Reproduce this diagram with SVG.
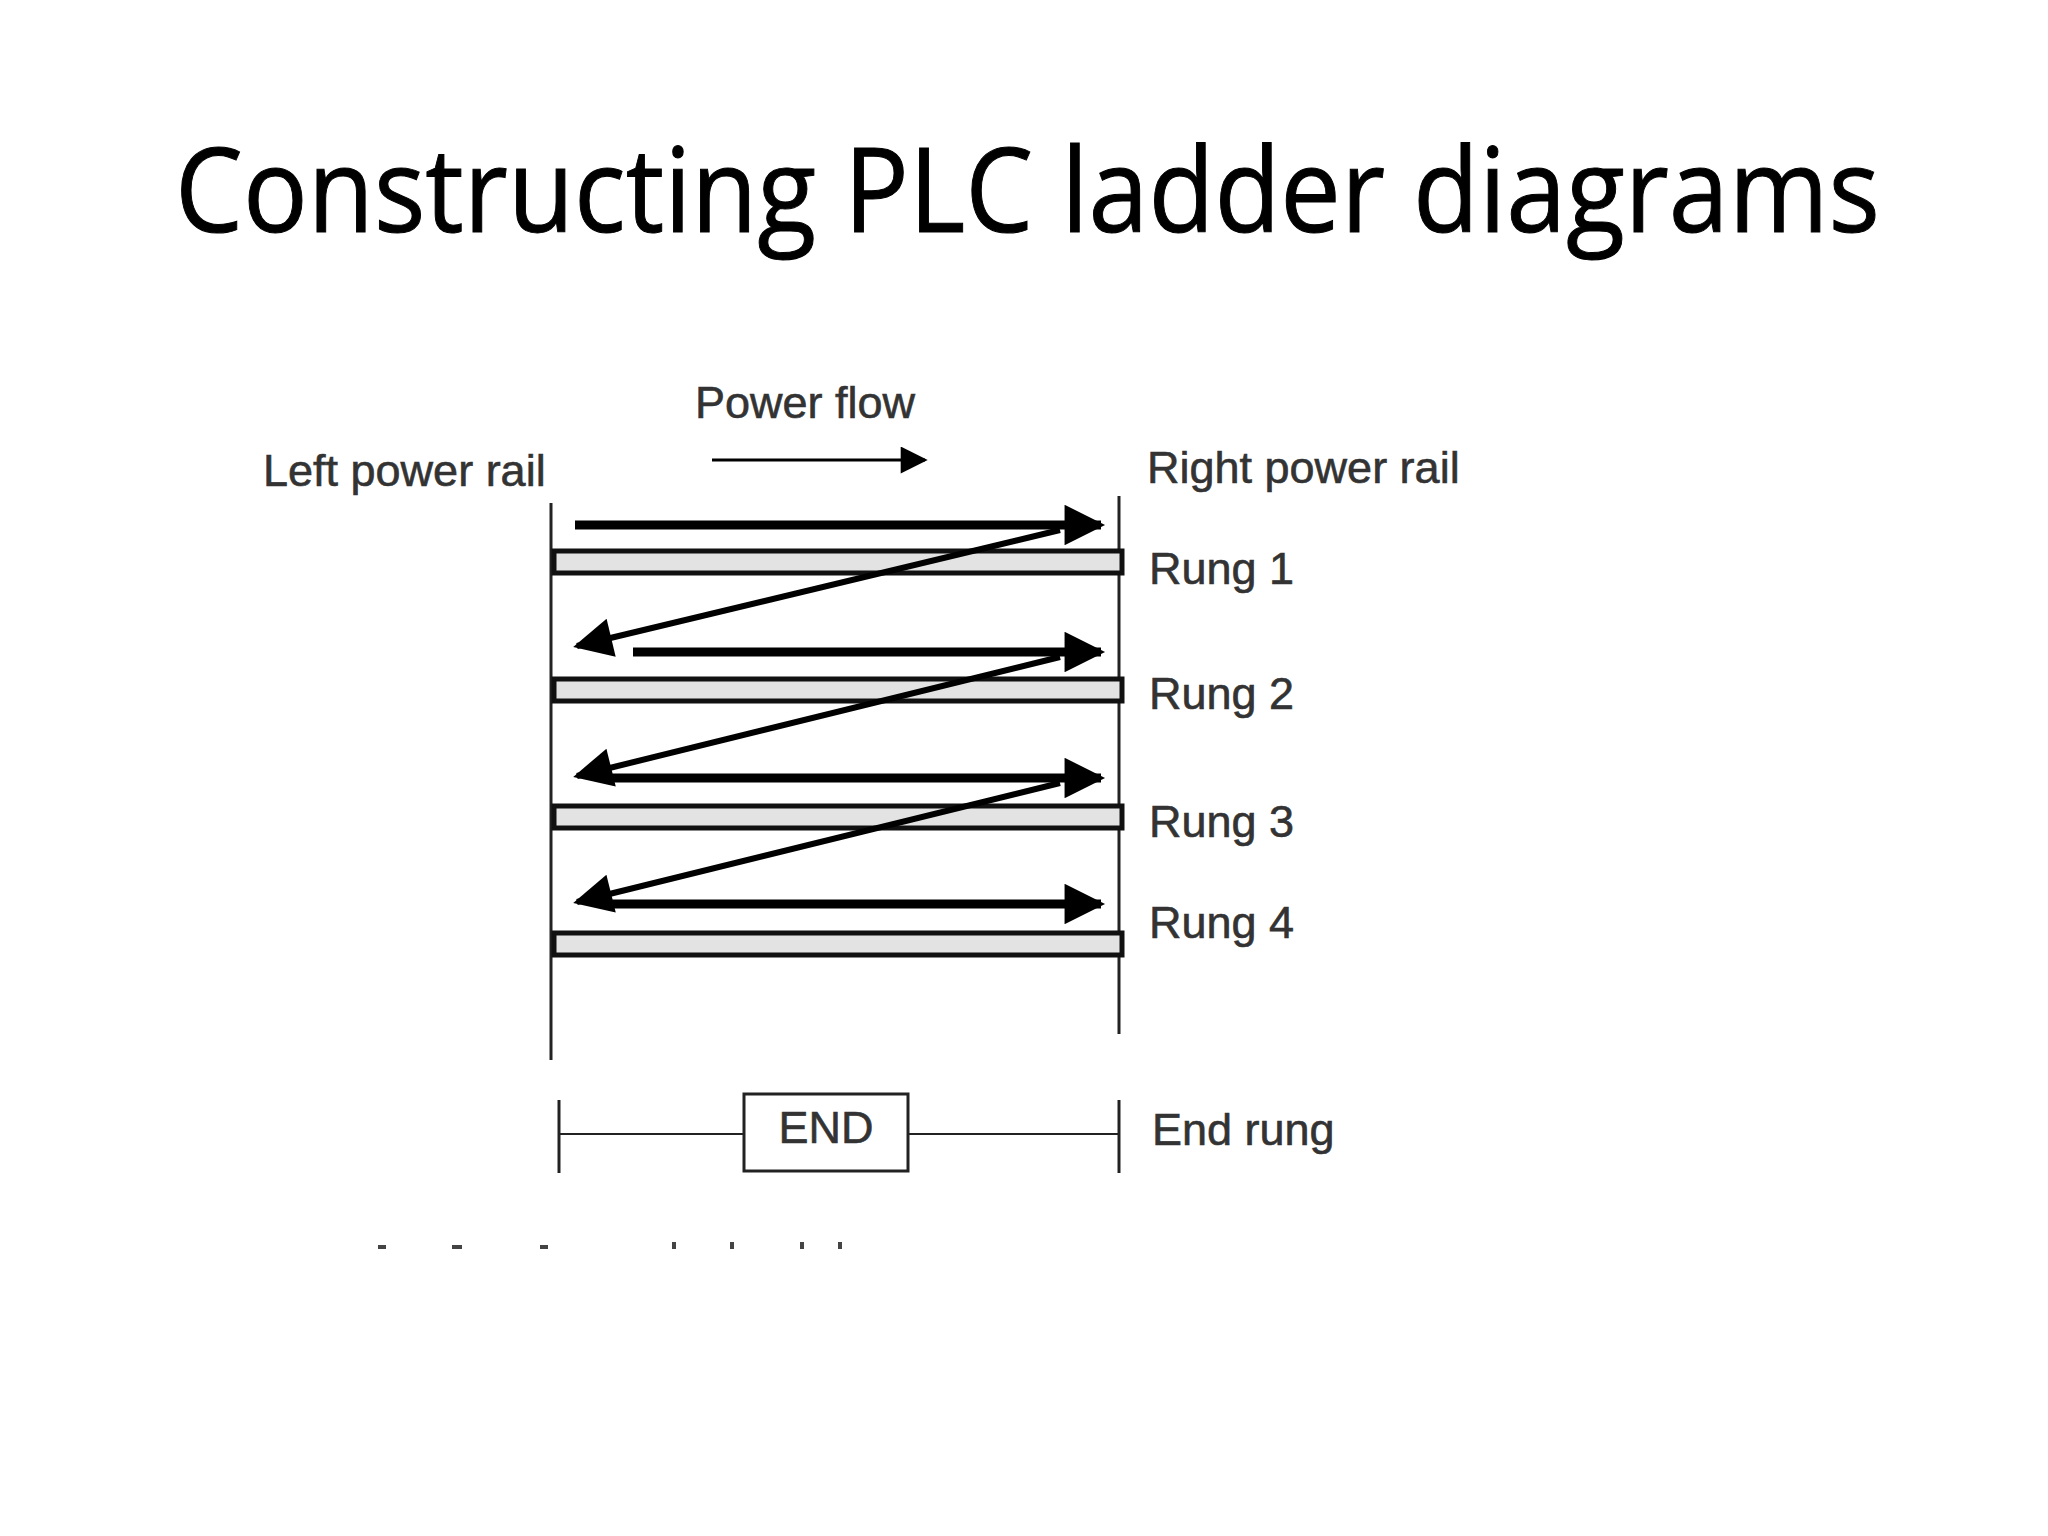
<svg xmlns="http://www.w3.org/2000/svg" width="2048" height="1536" viewBox="0 0 2048 1536">
<style>
.t{font-family:"Liberation Sans",Arial,sans-serif;font-size:45px;fill:#333;stroke:#333;stroke-width:0.6}
.rail{stroke:#222;stroke-width:3;fill:none}
.bar{fill:#e3e3e3;stroke:#111;stroke-width:5}
.fl{stroke:#000;stroke-width:9;fill:none}
.dg{stroke:#000;stroke-width:6;fill:none}
</style>
<defs>
<marker id="ah" viewBox="0 0 10 10" refX="9" refY="5" markerWidth="5.5" markerHeight="4.5" markerUnits="strokeWidth" orient="auto"><path d="M0,0 L10,5 L0,10 z" fill="#000"/></marker>
<marker id="ahd" viewBox="0 0 10 10" refX="9" refY="5" markerWidth="8" markerHeight="6.5" markerUnits="strokeWidth" orient="auto"><path d="M0,0 L10,5 L0,10 z" fill="#000"/></marker>
<marker id="ahs" viewBox="0 0 10 10" refX="9" refY="5" markerWidth="12" markerHeight="9" markerUnits="strokeWidth" orient="auto"><path d="M0,0 L10,5 L0,10 z" fill="#000"/></marker>
</defs>
<rect width="2048" height="1536" fill="#fff"/>
<text x="175" y="232" font-family="'Open Sans',sans-serif" font-size="118" textLength="1705" lengthAdjust="spacingAndGlyphs" fill="#000" stroke="#000" stroke-width="1">Constructing PLC ladder diagrams</text>
<g id="labels">
<text class="t" x="695" y="418">Power flow</text>
<text class="t" x="263" y="486">Left power rail</text>
<text class="t" x="1147" y="483">Right power rail</text>
<text class="t" x="1149" y="584">Rung 1</text>
<text class="t" x="1149" y="709">Rung 2</text>
<text class="t" x="1149" y="837">Rung 3</text>
<text class="t" x="1149" y="938">Rung 4</text>
<text class="t" x="1152" y="1145">End rung</text>
</g>
<g id="rails">
<line class="rail" x1="551" y1="503" x2="551" y2="1060"/>
<line class="rail" x1="1119" y1="496" x2="1119" y2="1034"/>
</g>
<g id="rungs">
<rect class="bar" x="554" y="551" width="568" height="22"/>
<rect class="bar" x="554" y="679" width="568" height="22"/>
<rect class="bar" x="554" y="806" width="568" height="22"/>
<rect class="bar" x="554" y="933" width="568" height="22"/>
</g>
<g id="connectors">
<line x1="712" y1="460" x2="925" y2="460" stroke="#000" stroke-width="3" marker-end="url(#ahs)"/>
<line class="fl" x1="575" y1="525" x2="1101" y2="525" marker-end="url(#ah)"/>
<line class="fl" x1="633" y1="652" x2="1101" y2="652" marker-end="url(#ah)"/>
<line class="fl" x1="600" y1="778" x2="1101" y2="778" marker-end="url(#ah)"/>
<line class="fl" x1="600" y1="904" x2="1101" y2="904" marker-end="url(#ah)"/>
<line class="dg" x1="1060" y1="530" x2="577" y2="646" marker-end="url(#ahd)"/>
<line class="dg" x1="1060" y1="657" x2="577" y2="776" marker-end="url(#ahd)"/>
<line class="dg" x1="1060" y1="783" x2="577" y2="902" marker-end="url(#ahd)"/>
</g>
<g id="endrung">
<line class="rail" x1="559" y1="1100" x2="559" y2="1173"/>
<line class="rail" x1="1119" y1="1100" x2="1119" y2="1173"/>
<line x1="559" y1="1134" x2="744" y2="1134" stroke="#222" stroke-width="2"/>
<line x1="908" y1="1134" x2="1119" y2="1134" stroke="#222" stroke-width="2"/>
<rect x="744" y="1094" width="164" height="77" fill="#fff" stroke="#222" stroke-width="3"/>
<text class="t" x="826" y="1143" text-anchor="middle">END</text>
</g>
<g id="fragments" fill="#444">
<rect x="378" y="1245" width="8" height="4"/>
<rect x="452" y="1245" width="10" height="4"/>
<rect x="540" y="1245" width="8" height="4"/>
<rect x="672" y="1242" width="4" height="7"/>
<rect x="730" y="1242" width="4" height="7"/>
<rect x="800" y="1242" width="4" height="7"/>
<rect x="838" y="1242" width="4" height="7"/>
</g>
</svg>
